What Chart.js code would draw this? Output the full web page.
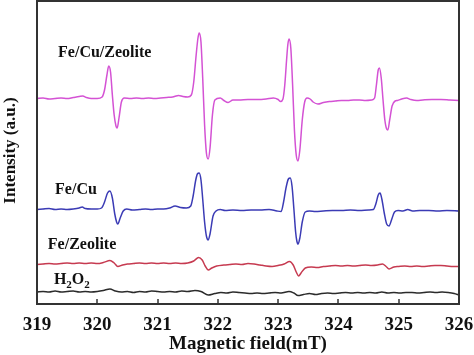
<!DOCTYPE html>
<html>
<head>
<meta charset="utf-8">
<script src="https://cdn.jsdelivr.net/npm/chart.js@4/dist/chart.umd.min.js"></script>
<style>
html,body{margin:0;padding:0;background:#fff;}
#wrap{width:474px;height:355px;position:relative;}
</style>
</head>
<body>
<div id="wrap"><canvas id="c" width="474" height="355"></canvas></div>
<script>
// ---- data ----
const xTicks = [319, 320, 321, 322, 323, 324, 325, 326];

const feCuZeoField = [319.00,319.10,319.20,319.30,319.40,319.50,319.60,319.70,319.76,319.82,319.90,320.00,320.08,320.12,320.16,320.19,320.22,320.25,320.28,320.31,320.33,320.36,320.40,320.45,320.55,320.65,320.75,320.85,320.95,321.05,321.15,321.25,321.35,321.42,321.50,321.56,321.60,321.64,321.67,321.69,321.72,321.75,321.78,321.81,321.84,321.87,321.91,321.95,322.04,322.10,322.17,322.25,322.35,322.50,322.65,322.80,322.92,323.00,323.04,323.08,323.11,323.14,323.16,323.18,323.21,323.24,323.27,323.30,323.33,323.36,323.40,323.44,323.48,323.53,323.58,323.66,323.75,323.85,323.95,324.05,324.15,324.25,324.35,324.45,324.55,324.60,324.63,324.66,324.68,324.71,324.74,324.77,324.80,324.82,324.85,324.89,324.94,324.98,325.05,325.13,325.20,325.30,325.40,325.55,325.70,325.85,326.00];
const feCuZeoInt = [205.5,206,205,205.5,206,205.5,206.5,207.5,208,206.5,205.5,205.5,207,214,229,238,232,209,189,178,176,186,202,206,205.5,206,205.5,206,205.5,206,206.5,207,208.5,207.5,207,209,222,249,266,271,262,224,179,151,145,156,189,204,206,203.5,201.5,204,204,204.5,204.5,205,206,204.5,202.5,205,219,244,259,265,256,219,174,149,143,154,184,202,206,205,202,200,201.5,202.5,203,203.5,203.5,204,204,203.5,204,206,219,234,236,226,204,184,175,174,184,198,203,203.5,205,206,204.5,203.5,204,204.5,204.5,204,203.5];

const feCuField = [319.00,319.10,319.20,319.30,319.40,319.50,319.60,319.70,319.75,319.80,319.90,320.00,320.07,320.12,320.17,320.21,320.25,320.29,320.32,320.34,320.38,320.43,320.49,320.58,320.70,320.80,320.90,321.00,321.10,321.20,321.29,321.38,321.48,321.55,321.59,321.63,321.66,321.69,321.72,321.75,321.78,321.81,321.84,321.87,321.92,321.97,322.04,322.12,322.25,322.40,322.55,322.70,322.85,322.98,323.05,323.09,323.13,323.17,323.20,323.23,323.26,323.29,323.31,323.33,323.36,323.40,323.45,323.52,323.62,323.75,323.90,324.05,324.20,324.35,324.50,324.58,324.62,324.66,324.69,324.72,324.76,324.80,324.84,324.88,324.93,324.99,325.07,325.15,325.23,325.35,325.50,325.65,325.80,326.00];
const feCuInt = [94.5,95,95.5,94.5,95,94.5,95,96,97,95.5,95,95,96,102,111,113,106,90,82,80,86,93,95,94,94.5,95,94.5,95,95,96,98,96.5,96,98,108,123,130,131,124,104,82,68,64,70,88,93,94.5,93.5,94,93.5,94,94,94.5,93,92.5,102,116,125,126,118,96,72,63,60,66,82,92,93,92.5,93,93.5,93.5,94,93.5,94,94.5,100,109,111,105,91,80,78,84,92,93.5,93,94.5,93,93.5,93.5,93,93.5,93];

const feZeoField = [319.00,319.10,319.20,319.30,319.40,319.50,319.60,319.70,319.80,319.90,320.00,320.10,320.21,320.28,320.34,320.42,320.50,320.60,320.70,320.80,320.90,321.00,321.10,321.20,321.30,321.40,321.50,321.60,321.68,321.74,321.79,321.84,321.90,321.98,322.10,322.20,322.30,322.40,322.50,322.60,322.70,322.80,322.90,323.00,323.10,323.19,323.25,323.30,323.34,323.38,323.45,323.55,323.65,323.75,323.85,323.95,324.05,324.15,324.25,324.35,324.45,324.55,324.65,324.73,324.79,324.84,324.92,325.00,325.10,325.20,325.30,325.40,325.50,325.60,325.70,325.80,325.90,326.00];
const feZeoInt = [39.5,40,40.5,40,40.5,41,40.5,41,40.5,41,40.5,41.5,43.5,41,37.5,39,40,40.5,41,40.5,41,40.5,41,40.5,41,40.5,41,43,46.5,44,38,34,36,38,39,39.5,40,39.5,40.5,40,39,38,37.5,38.5,40,42.5,39,32,28,31,36,37,36.5,37.5,38,38.5,38,38.5,38,38.5,39,38.5,39,40,37.5,35,37,37.5,38,37.5,38,37.5,38,38.5,38.5,38,37.5,37.5];

const h2o2Field = [319.00,319.10,319.20,319.30,319.40,319.50,319.60,319.70,319.80,319.90,320.00,320.10,320.21,320.30,320.40,320.50,320.60,320.70,320.80,320.90,321.00,321.10,321.20,321.30,321.40,321.50,321.62,321.72,321.84,321.95,322.05,322.15,322.25,322.35,322.45,322.55,322.65,322.75,322.85,322.95,323.05,323.18,323.26,323.33,323.42,323.52,323.62,323.72,323.82,323.92,324.02,324.12,324.22,324.32,324.42,324.52,324.62,324.72,324.82,324.92,325.02,325.12,325.22,325.32,325.42,325.52,325.62,325.72,325.82,325.92,326.00];
const h2o2Int = [12,12.5,12,13,12,12.5,13,12,12.5,12,12.5,13.5,15,13,12,12.5,11.5,12.5,12,13,12.5,12,12.5,12,13,12.5,13.5,12.5,9,10.5,11.5,11,12,11.5,11,10.5,11,10.5,11,11.5,11,12.5,11,8.5,9.5,10.5,9.5,10.5,11,10.5,11,11.5,11,11.5,11,11.5,11,12,11,11.5,11,11.5,11.5,11,11.5,12,11.5,12,11.5,10.5,9];

const seriesNames = ['Fe/Cu/Zeolite', 'Fe/Cu', 'Fe/Zeolite', 'H2O2'];
const seriesColors = ['#d452d4', '#3b3bb5', '#c63a50', '#2b2b2b'];
// label anchor (field, intensity) for each series name
const labelField = [319.35, 319.30, 319.18, 319.28];
const labelInt = [251, 114, 59, 24];

const fieldSets = [feCuZeoField, feCuField, feZeoField, h2o2Field];
const intSets = [feCuZeoInt, feCuInt, feZeoInt, h2o2Int];

const datasets = seriesNames.map((n, i) => ({
  label: n,
  data: fieldSets[i].map((x, j) => ({x: x, y: intSets[i][j]})),
  borderColor: seriesColors[i],
  borderWidth: 1.5,
  pointRadius: 0,
  cubicInterpolationMode: 'monotone',
  fill: false
}));

const SERIF = "'Liberation Serif', 'Times New Roman', serif";

const decor = {
  id: 'decor',
  afterDraw(chart) {
    const ctx = chart.ctx, a = chart.chartArea;
    const xs = chart.scales.x, ys = chart.scales.y;
    ctx.save();
    // frame
    ctx.strokeStyle = '#333';
    ctx.lineWidth = 2;
    ctx.strokeRect(a.left, a.top, a.right - a.left, a.bottom - a.top);
    // inward ticks
    ctx.lineWidth = 1.5;
    xTicks.forEach(v => {
      const px = Math.round(xs.getPixelForValue(v));
      ctx.beginPath();
      ctx.moveTo(px, a.bottom);
      ctx.lineTo(px, a.bottom - 5);
      ctx.stroke();
    });
    // y title
    ctx.fillStyle = '#111';
    ctx.font = 'bold 17px ' + SERIF;
    ctx.textAlign = 'center';
    ctx.textBaseline = 'middle';
    ctx.translate(11, (a.top + a.bottom) / 2 - 2);
    ctx.rotate(-Math.PI / 2);
    ctx.fillText('Intensity (a.u.)', 0, 0);
    ctx.restore();
    // series labels
    ctx.save();
    ctx.fillStyle = '#111';
    ctx.textAlign = 'left';
    ctx.textBaseline = 'middle';
    seriesNames.forEach((n, i) => {
      const px = xs.getPixelForValue(labelField[i]);
      const py = ys.getPixelForValue(labelInt[i]);
      if (n === 'H2O2') {
        let cx = px;
        const parts = [['H', 0], ['2', 1], ['O', 0], ['2', 1]];
        parts.forEach(p => {
          ctx.font = p[1] ? 'bold 11px ' + SERIF : 'bold 16px ' + SERIF;
          ctx.fillText(p[0], cx, py + (p[1] ? 5 : 0));
          cx += ctx.measureText(p[0]).width;
        });
      } else {
        ctx.font = 'bold 16px ' + SERIF;
        ctx.fillText(n, px, py);
      }
    });
    ctx.restore();
  }
};

new Chart(document.getElementById('c'), {
  type: 'line',
  data: {datasets: datasets},
  options: {
    responsive: false,
    animation: false,
    layout: {padding: {left: 37, right: 15, top: 1, bottom: 0}},
    plugins: {legend: {display: false}, tooltip: {enabled: false}},
    scales: {
      x: {
        type: 'linear',
        min: 319, max: 326,
        afterBuildTicks: s => { s.ticks = xTicks.map(v => ({value: v})); },
        afterFit: s => { s.height = 51; s.paddingLeft = 0; s.paddingRight = 0; },
        grid: {display: false},
        border: {display: false},
        ticks: {
          color: '#111',
          padding: 2,
          maxRotation: 0,
          autoSkip: false,
          font: {family: SERIF, size: 19, weight: 'bold'}
        },
        title: {
          display: true,
          text: 'Magnetic field(mT)',
          color: '#111',
          padding: {top: 0, bottom: 0},
          font: {family: SERIF, size: 19, weight: 'bold'}
        }
      },
      y: {
        display: false,
        min: 0, max: 303
      }
    }
  },
  plugins: [decor]
});
</script>
</body>
</html>
